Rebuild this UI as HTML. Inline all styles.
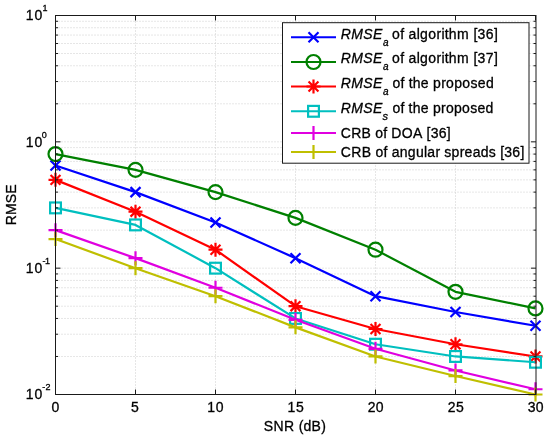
<!DOCTYPE html><html><head><meta charset="utf-8"><style>html,body{margin:0;padding:0;background:#fff;overflow:hidden}svg{display:block}text{font-family:"Liberation Sans",Arial,sans-serif;fill:#000;stroke:#000;stroke-width:0.3px;white-space:pre}</style></head><body>
<svg width="550" height="440" viewBox="0 0 550 440">
<rect width="550" height="440" fill="#fff"/>
<path d="M135.50,15.5V394.5M215.50,15.5V394.5M295.50,15.5V394.5M375.50,15.5V394.5M455.50,15.5V394.5M55.5,356.47H536.0M55.5,334.22H536.0M55.5,318.44H536.0M55.5,306.20H536.0M55.5,296.19H536.0M55.5,287.74H536.0M55.5,280.41H536.0M55.5,273.95H536.0M55.5,268.17H536.0M55.5,230.14H536.0M55.5,207.89H536.0M55.5,192.11H536.0M55.5,179.86H536.0M55.5,169.86H536.0M55.5,161.40H536.0M55.5,154.08H536.0M55.5,147.61H536.0M55.5,141.83H536.0M55.5,103.80H536.0M55.5,81.56H536.0M55.5,65.77H536.0M55.5,53.53H536.0M55.5,43.53H536.0M55.5,35.07H536.0M55.5,27.74H536.0M55.5,21.28H536.0" stroke="#cdcdcd" stroke-width="1" stroke-dasharray="1,2" fill="none"/>
<polyline points="55.50,165.47 135.50,192.11 215.50,222.47 295.50,258.16 375.50,296.19 455.50,311.98 535.50,325.77" stroke="#0000ff" stroke-width="2.2" fill="none" stroke-linejoin="round"/>
<path d="M50.50,160.47L60.50,170.47M50.50,170.47L60.50,160.47" stroke="#0000ff" stroke-width="2.2" fill="none"/>
<path d="M130.50,187.11L140.50,197.11M130.50,197.11L140.50,187.11" stroke="#0000ff" stroke-width="2.2" fill="none"/>
<path d="M210.50,217.47L220.50,227.47M210.50,227.47L220.50,217.47" stroke="#0000ff" stroke-width="2.2" fill="none"/>
<path d="M290.50,253.16L300.50,263.16M290.50,263.16L300.50,253.16" stroke="#0000ff" stroke-width="2.2" fill="none"/>
<path d="M370.50,291.19L380.50,301.19M370.50,301.19L380.50,291.19" stroke="#0000ff" stroke-width="2.2" fill="none"/>
<path d="M450.50,306.98L460.50,316.98M450.50,316.98L460.50,306.98" stroke="#0000ff" stroke-width="2.2" fill="none"/>
<path d="M530.50,320.77L540.50,330.77M530.50,330.77L540.50,320.77" stroke="#0000ff" stroke-width="2.2" fill="none"/>
<polyline points="55.50,154.08 135.50,169.86 215.50,192.11 295.50,217.89 375.50,249.71 455.50,291.80 535.50,308.44" stroke="#008000" stroke-width="2.2" fill="none" stroke-linejoin="round"/>
<circle cx="55.50" cy="154.08" r="7.0" stroke="#008000" stroke-width="2.2" fill="none"/>
<circle cx="135.50" cy="169.86" r="7.0" stroke="#008000" stroke-width="2.2" fill="none"/>
<circle cx="215.50" cy="192.11" r="7.0" stroke="#008000" stroke-width="2.2" fill="none"/>
<circle cx="295.50" cy="217.89" r="7.0" stroke="#008000" stroke-width="2.2" fill="none"/>
<circle cx="375.50" cy="249.71" r="7.0" stroke="#008000" stroke-width="2.2" fill="none"/>
<circle cx="455.50" cy="291.80" r="7.0" stroke="#008000" stroke-width="2.2" fill="none"/>
<circle cx="535.50" cy="308.44" r="7.0" stroke="#008000" stroke-width="2.2" fill="none"/>
<polyline points="55.50,179.86 135.50,211.68 215.50,249.71 295.50,306.20 375.50,328.99 455.50,344.23 535.50,356.47" stroke="#ff0000" stroke-width="2.2" fill="none" stroke-linejoin="round"/>
<path d="M48.50,179.86L62.50,179.86M55.50,172.86L55.50,186.86M50.55,174.91L60.45,184.81M50.55,184.81L60.45,174.91" stroke="#ff0000" stroke-width="2.2" fill="none"/>
<path d="M128.50,211.68L142.50,211.68M135.50,204.68L135.50,218.68M130.55,206.73L140.45,216.63M130.55,216.63L140.45,206.73" stroke="#ff0000" stroke-width="2.2" fill="none"/>
<path d="M208.50,249.71L222.50,249.71M215.50,242.71L215.50,256.71M210.55,244.76L220.45,254.66M210.55,254.66L220.45,244.76" stroke="#ff0000" stroke-width="2.2" fill="none"/>
<path d="M288.50,306.20L302.50,306.20M295.50,299.20L295.50,313.20M290.55,301.25L300.45,311.15M290.55,311.15L300.45,301.25" stroke="#ff0000" stroke-width="2.2" fill="none"/>
<path d="M368.50,328.99L382.50,328.99M375.50,321.99L375.50,335.99M370.55,324.04L380.45,333.94M370.55,333.94L380.45,324.04" stroke="#ff0000" stroke-width="2.2" fill="none"/>
<path d="M448.50,344.23L462.50,344.23M455.50,337.23L455.50,351.23M450.55,339.28L460.45,349.18M450.55,349.18L460.45,339.28" stroke="#ff0000" stroke-width="2.2" fill="none"/>
<path d="M528.50,356.47L542.50,356.47M535.50,349.47L535.50,363.47M530.55,351.52L540.45,361.42M530.55,361.42L540.45,351.52" stroke="#ff0000" stroke-width="2.2" fill="none"/>
<polyline points="55.50,207.89 135.50,224.91 215.50,268.17 295.50,318.44 375.50,344.23 455.50,356.47 535.50,362.25" stroke="#00bfbf" stroke-width="2.2" fill="none" stroke-linejoin="round"/>
<rect x="50.10" y="202.49" width="10.80" height="10.80" stroke="#00bfbf" stroke-width="2.2" fill="none"/>
<rect x="130.10" y="219.51" width="10.80" height="10.80" stroke="#00bfbf" stroke-width="2.2" fill="none"/>
<rect x="210.10" y="262.77" width="10.80" height="10.80" stroke="#00bfbf" stroke-width="2.2" fill="none"/>
<rect x="290.10" y="313.04" width="10.80" height="10.80" stroke="#00bfbf" stroke-width="2.2" fill="none"/>
<rect x="370.10" y="338.83" width="10.80" height="10.80" stroke="#00bfbf" stroke-width="2.2" fill="none"/>
<rect x="450.10" y="351.07" width="10.80" height="10.80" stroke="#00bfbf" stroke-width="2.2" fill="none"/>
<rect x="530.10" y="356.85" width="10.80" height="10.80" stroke="#00bfbf" stroke-width="2.2" fill="none"/>
<polyline points="55.50,230.14 135.50,258.16 215.50,287.74 295.50,319.83 375.50,348.80 455.50,370.45 535.50,389.27" stroke="#e000e0" stroke-width="2.2" fill="none" stroke-linejoin="round"/>
<path d="M48.50,230.14L62.50,230.14M55.50,223.14L55.50,237.14" stroke="#e000e0" stroke-width="2.2" fill="none"/>
<path d="M128.50,258.16L142.50,258.16M135.50,251.16L135.50,265.16" stroke="#e000e0" stroke-width="2.2" fill="none"/>
<path d="M208.50,287.74L222.50,287.74M215.50,280.74L215.50,294.74" stroke="#e000e0" stroke-width="2.2" fill="none"/>
<path d="M288.50,319.83L302.50,319.83M295.50,312.83L295.50,326.83" stroke="#e000e0" stroke-width="2.2" fill="none"/>
<path d="M368.50,348.80L382.50,348.80M375.50,341.80L375.50,355.80" stroke="#e000e0" stroke-width="2.2" fill="none"/>
<path d="M448.50,370.45L462.50,370.45M455.50,363.45L455.50,377.45" stroke="#e000e0" stroke-width="2.2" fill="none"/>
<path d="M528.50,389.27L542.50,389.27M535.50,382.27L535.50,396.27" stroke="#e000e0" stroke-width="2.2" fill="none"/>
<polyline points="55.50,239.05 135.50,268.17 215.50,296.19 295.50,327.36 375.50,356.47 455.50,376.04 535.50,394.50" stroke="#bfbf00" stroke-width="2.2" fill="none" stroke-linejoin="round"/>
<path d="M48.50,239.05L62.50,239.05M55.50,232.05L55.50,246.05" stroke="#bfbf00" stroke-width="2.2" fill="none"/>
<path d="M128.50,268.17L142.50,268.17M135.50,261.17L135.50,275.17" stroke="#bfbf00" stroke-width="2.2" fill="none"/>
<path d="M208.50,296.19L222.50,296.19M215.50,289.19L215.50,303.19" stroke="#bfbf00" stroke-width="2.2" fill="none"/>
<path d="M288.50,327.36L302.50,327.36M295.50,320.36L295.50,334.36" stroke="#bfbf00" stroke-width="2.2" fill="none"/>
<path d="M368.50,356.47L382.50,356.47M375.50,349.47L375.50,363.47" stroke="#bfbf00" stroke-width="2.2" fill="none"/>
<path d="M448.50,376.04L462.50,376.04M455.50,369.04L455.50,383.04" stroke="#bfbf00" stroke-width="2.2" fill="none"/>
<path d="M528.50,394.50L542.50,394.50M535.50,387.50L535.50,401.50" stroke="#bfbf00" stroke-width="2.2" fill="none"/>
<path d="M55.50,394.5v-5M55.50,15.5v5M135.50,394.5v-5M135.50,15.5v5M215.50,394.5v-5M215.50,15.5v5M295.50,394.5v-5M295.50,15.5v5M375.50,394.5v-5M375.50,15.5v5M455.50,394.5v-5M455.50,15.5v5M535.50,394.5v-5M535.50,15.5v5M55.5,394.50h5M536.0,394.50h-5M55.5,356.47h2.5M536.0,356.47h-2.5M55.5,334.22h2.5M536.0,334.22h-2.5M55.5,318.44h2.5M536.0,318.44h-2.5M55.5,306.20h2.5M536.0,306.20h-2.5M55.5,296.19h2.5M536.0,296.19h-2.5M55.5,287.74h2.5M536.0,287.74h-2.5M55.5,280.41h2.5M536.0,280.41h-2.5M55.5,273.95h2.5M536.0,273.95h-2.5M55.5,268.17h5M536.0,268.17h-5M55.5,230.14h2.5M536.0,230.14h-2.5M55.5,207.89h2.5M536.0,207.89h-2.5M55.5,192.11h2.5M536.0,192.11h-2.5M55.5,179.86h2.5M536.0,179.86h-2.5M55.5,169.86h2.5M536.0,169.86h-2.5M55.5,161.40h2.5M536.0,161.40h-2.5M55.5,154.08h2.5M536.0,154.08h-2.5M55.5,147.61h2.5M536.0,147.61h-2.5M55.5,141.83h5M536.0,141.83h-5M55.5,103.80h2.5M536.0,103.80h-2.5M55.5,81.56h2.5M536.0,81.56h-2.5M55.5,65.77h2.5M536.0,65.77h-2.5M55.5,53.53h2.5M536.0,53.53h-2.5M55.5,43.53h2.5M536.0,43.53h-2.5M55.5,35.07h2.5M536.0,35.07h-2.5M55.5,27.74h2.5M536.0,27.74h-2.5M55.5,21.28h2.5M536.0,21.28h-2.5M55.5,15.50h5M536.0,15.50h-5" stroke="#1a1a1a" stroke-width="1" fill="none"/>
<rect x="55.5" y="15.5" width="480.5" height="379.0" stroke="#1a1a1a" stroke-width="1" fill="none"/>
<text x="51.45" y="411.90" font-size="14">0</text>
<text x="131.04" y="411.90" font-size="14">5</text>
<text x="207.33 215.86" y="411.90" font-size="14">10</text>
<text x="287.43 295.90" y="411.90" font-size="14">15</text>
<text x="367.70 375.86" y="411.90" font-size="14">20</text>
<text x="447.70 455.90" y="411.90" font-size="14">25</text>
<text x="527.87 535.86" y="411.90" font-size="14">30</text>
<text x="25.83 34.56" y="399.45" font-size="14">10</text>
<text x="42.30 45.45" y="390.20" font-size="9">-2</text>
<text x="25.83 34.56" y="273.12" font-size="14">10</text>
<text x="42.50 44.93" y="263.87" font-size="9">-1</text>
<text x="25.83 34.56" y="146.78" font-size="14">10</text>
<text x="41.85" y="137.53" font-size="9">0</text>
<text x="25.83 34.56" y="20.45" font-size="14">10</text>
<text x="42.41" y="11.20" font-size="9">1</text>
<text x="263.86 273.58 284.09 294.60 298.65 303.50 311.59 321.31" y="430.50" font-size="14">SNR (dB)</text>
<text transform="rotate(-90)" x="-225.25 -215.04 -203.26 -193.84" y="15.6" font-size="14">RMSE</text>
<rect x="282.5" y="22.7" width="246.5" height="140.5" fill="#fff" stroke="#1a1a1a" stroke-width="1"/>
<path d="M291,37.20H336" stroke="#0000ff" stroke-width="2" fill="none"/>
<path d="M308.50,32.20L318.50,42.20M308.50,42.20L318.50,32.20" stroke="#0000ff" stroke-width="2.2" fill="none"/>
<path d="M291,62.00H336" stroke="#008000" stroke-width="2" fill="none"/>
<circle cx="313.50" cy="62.00" r="7.0" stroke="#008000" stroke-width="2.2" fill="none"/>
<path d="M291,86.50H336" stroke="#ff0000" stroke-width="2" fill="none"/>
<path d="M306.50,86.50L320.50,86.50M313.50,79.50L313.50,93.50M308.55,81.55L318.45,91.45M308.55,91.45L318.45,81.55" stroke="#ff0000" stroke-width="2.2" fill="none"/>
<path d="M291,111.30H336" stroke="#00bfbf" stroke-width="2" fill="none"/>
<rect x="308.10" y="105.90" width="10.80" height="10.80" stroke="#00bfbf" stroke-width="2.2" fill="none"/>
<path d="M291,133.00H336" stroke="#e000e0" stroke-width="2" fill="none"/>
<path d="M306.50,133.00L320.50,133.00M313.50,126.00L313.50,140.00" stroke="#e000e0" stroke-width="2.2" fill="none"/>
<path d="M291,152.00H336" stroke="#bfbf00" stroke-width="2" fill="none"/>
<path d="M306.50,152.00L320.50,152.00M313.50,145.00L313.50,159.00" stroke="#bfbf00" stroke-width="2.2" fill="none"/>
<text x="340.87 351.29 363.31 372.93" y="39.00" font-size="14" font-style="italic">RMSE</text>
<text x="382.88" y="46.00" font-size="10" font-style="italic">a</text>
<text x="392.11 400.33 404.44 408.55 416.77 420.05 428.28 436.50 441.42 444.71 448.81 457.04 469.35 473.46 477.56 485.79 494.01" y="39.00" font-size="14">of algorithm [36]</text>
<text x="340.87 351.29 363.31 372.93" y="63.10" font-size="14" font-style="italic">RMSE</text>
<text x="382.88" y="70.10" font-size="10" font-style="italic">a</text>
<text x="392.11 400.33 404.44 408.55 416.77 420.05 428.28 436.50 441.42 444.71 448.81 457.04 469.35 473.46 477.56 485.79 494.01" y="63.10" font-size="14">of algorithm [37]</text>
<text x="340.87 351.29 363.31 372.93" y="88.30" font-size="14" font-style="italic">RMSE</text>
<text x="382.88" y="95.30" font-size="10" font-style="italic">a</text>
<text x="392.41 400.55 404.61 408.67 412.74 420.87 429.00 433.07 441.20 446.07 454.20 462.34 470.47 477.78 485.92" y="88.30" font-size="14">of the proposed</text>
<text x="340.87 351.29 363.31 372.93" y="112.60" font-size="14" font-style="italic">RMSE</text>
<text x="382.47" y="120.20" font-size="11" font-style="italic">s</text>
<text x="392.41 400.52 404.57 408.62 412.67 420.78 428.89 432.94 441.04 445.90 454.00 462.11 470.22 477.51 485.62" y="112.60" font-size="14">of the proposed</text>
<text x="340.69 351.13 361.56 371.20 375.22 383.25 387.27 391.29 401.72 412.96 422.60 426.62 430.63 438.67 446.71" y="138.30" font-size="14">CRB of DOA [36]</text>
<text x="340.69 351.21 361.72 371.44 375.48 383.58 387.63 391.68 399.78 407.87 415.97 424.07 427.31 435.41 440.26 444.31 451.59 459.69 464.54 472.64 480.74 488.84 496.12 500.16 504.21 512.31 520.41" y="156.50" font-size="14">CRB of angular spreads [36]</text>
</svg></body></html>
